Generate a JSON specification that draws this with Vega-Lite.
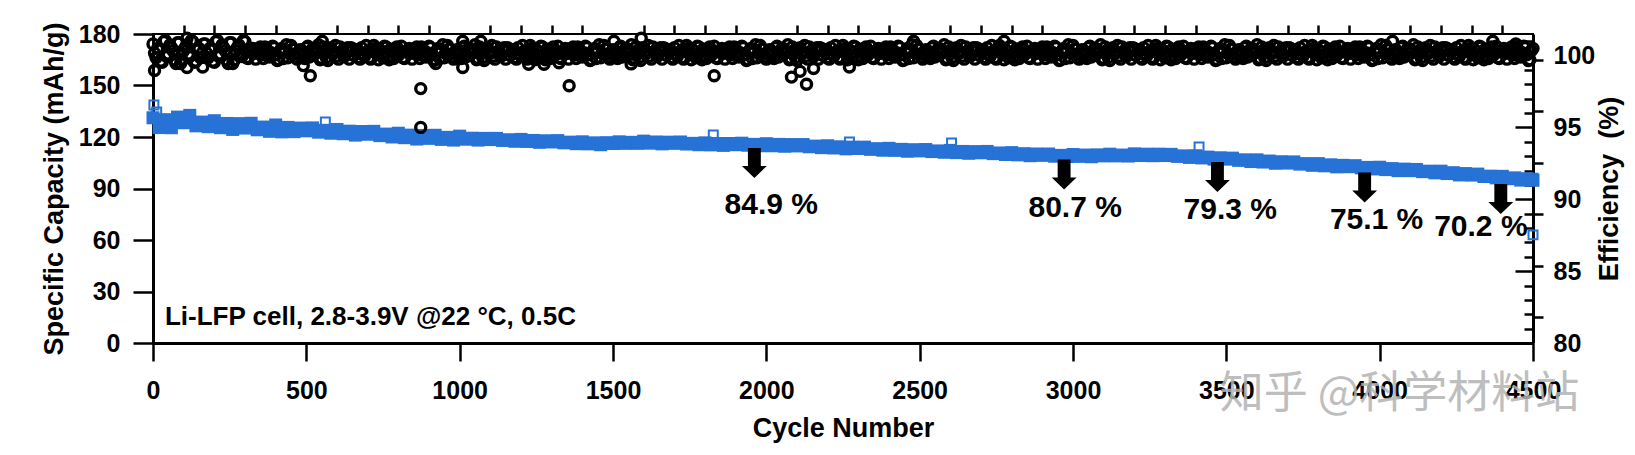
{
  "$schema": "https://vega.github.io/schema/vega-lite/v6.json",
  "autosize": {"type": "none"},
  "padding": {"left": 153, "top": 34, "right": 102, "bottom": 112},
  "width": 1380,
  "height": 309,
  "background": "white",
  "config": {
    "font": "Liberation Sans",
    "view": {"stroke": "black", "strokeWidth": 2},
    "axis": {
      "grid": false,
      "labelFont": "Liberation Sans",
      "titleFont": "Liberation Sans",
      "labelFontWeight": "bold",
      "titleFontWeight": "bold",
      "labelColor": "black",
      "titleColor": "black",
      "domainColor": "black",
      "tickColor": "black",
      "domainWidth": 3,
      "tickWidth": 2.5,
      "labelFontSize": 25,
      "titleFontSize": 27,
      "labelFlush": false,
      "labelBound": false
    }
  },
  "datasets": {
    "cap": [
      {"cycle":0,"cap":131.2},{"cycle":20,"cap":125.5},{"cycle":40,"cap":130.1},{"cycle":60,"cap":125.4},{"cycle":80,"cap":131.6},{"cycle":100,"cap":128.3},{"cycle":120,"cap":132.6},{"cycle":140,"cap":126.5},{"cycle":160,"cap":128.7},{"cycle":180,"cap":126.0},
      {"cycle":200,"cap":129.5},{"cycle":220,"cap":125.4},{"cycle":240,"cap":127.9},{"cycle":260,"cap":124.4},{"cycle":280,"cap":127.8},{"cycle":300,"cap":125.2},{"cycle":320,"cap":128.0},{"cycle":340,"cap":124.2},{"cycle":360,"cap":125.8},{"cycle":380,"cap":123.3},
      {"cycle":400,"cap":127.0},{"cycle":420,"cap":123.0},{"cycle":440,"cap":125.6},{"cycle":460,"cap":123.1},{"cycle":480,"cap":125.2},{"cycle":500,"cap":123.6},{"cycle":520,"cap":125.3},{"cycle":540,"cap":122.8},{"cycle":560,"cap":123.9},{"cycle":580,"cap":122.2},
      {"cycle":600,"cap":124.4},{"cycle":620,"cap":121.9},{"cycle":640,"cap":123.4},{"cycle":660,"cap":121.1},{"cycle":680,"cap":123.2},{"cycle":700,"cap":121.6},{"cycle":720,"cap":123.3},{"cycle":740,"cap":120.8},{"cycle":760,"cap":121.7},{"cycle":780,"cap":120.0},
      {"cycle":800,"cap":122.2},{"cycle":820,"cap":119.6},{"cycle":840,"cap":121.1},{"cycle":860,"cap":118.8},{"cycle":880,"cap":120.9},{"cycle":900,"cap":119.2},{"cycle":920,"cap":121.0},{"cycle":940,"cap":118.6},{"cycle":960,"cap":119.8},{"cycle":980,"cap":118.2},
      {"cycle":1000,"cap":120.5},{"cycle":1020,"cap":118.7},{"cycle":1040,"cap":119.3},{"cycle":1060,"cap":118.2},{"cycle":1080,"cap":119.2},{"cycle":1100,"cap":118.5},{"cycle":1120,"cap":119.2},{"cycle":1140,"cap":118.0},{"cycle":1160,"cap":118.4},{"cycle":1180,"cap":117.5},
      {"cycle":1200,"cap":118.6},{"cycle":1220,"cap":117.4},{"cycle":1240,"cap":118.0},{"cycle":1260,"cap":116.9},{"cycle":1280,"cap":117.8},{"cycle":1300,"cap":117.1},{"cycle":1320,"cap":117.9},{"cycle":1340,"cap":116.6},{"cycle":1360,"cap":117.0},{"cycle":1380,"cap":116.1},
      {"cycle":1400,"cap":117.2},{"cycle":1420,"cap":116.0},{"cycle":1440,"cap":116.6},{"cycle":1460,"cap":115.5},{"cycle":1480,"cap":116.7},{"cycle":1500,"cap":116.2},{"cycle":1520,"cap":117.2},{"cycle":1540,"cap":116.3},{"cycle":1560,"cap":116.9},{"cycle":1580,"cap":116.3},
      {"cycle":1600,"cap":117.6},{"cycle":1620,"cap":116.4},{"cycle":1640,"cap":117.1},{"cycle":1660,"cap":116.0},{"cycle":1680,"cap":117.0},{"cycle":1700,"cap":116.3},{"cycle":1720,"cap":117.1},{"cycle":1740,"cap":115.9},{"cycle":1760,"cap":116.3},{"cycle":1780,"cap":115.5},
      {"cycle":1800,"cap":116.6},{"cycle":1820,"cap":115.4},{"cycle":1840,"cap":116.2},{"cycle":1860,"cap":115.1},{"cycle":1880,"cap":116.2},{"cycle":1900,"cap":115.5},{"cycle":1920,"cap":116.4},{"cycle":1940,"cap":115.2},{"cycle":1960,"cap":115.7},{"cycle":1980,"cap":114.9},
      {"cycle":2000,"cap":116.1},{"cycle":2020,"cap":114.9},{"cycle":2040,"cap":115.7},{"cycle":2060,"cap":114.6},{"cycle":2080,"cap":115.6},{"cycle":2100,"cap":114.8},{"cycle":2120,"cap":115.6},{"cycle":2140,"cap":114.3},{"cycle":2160,"cap":114.7},{"cycle":2180,"cap":113.8},
      {"cycle":2200,"cap":114.9},{"cycle":2220,"cap":113.6},{"cycle":2240,"cap":114.3},{"cycle":2260,"cap":113.1},{"cycle":2280,"cap":114.1},{"cycle":2300,"cap":113.3},{"cycle":2320,"cap":114.1},{"cycle":2340,"cap":112.8},{"cycle":2360,"cap":113.2},{"cycle":2380,"cap":112.3},
      {"cycle":2400,"cap":113.4},{"cycle":2420,"cap":112.2},{"cycle":2440,"cap":112.8},{"cycle":2460,"cap":111.7},{"cycle":2480,"cap":112.6},{"cycle":2500,"cap":111.9},{"cycle":2520,"cap":112.7},{"cycle":2540,"cap":111.5},{"cycle":2560,"cap":111.9},{"cycle":2580,"cap":111.1},
      {"cycle":2600,"cap":112.2},{"cycle":2620,"cap":110.9},{"cycle":2640,"cap":111.6},{"cycle":2660,"cap":110.5},{"cycle":2680,"cap":111.5},{"cycle":2700,"cap":110.8},{"cycle":2720,"cap":111.6},{"cycle":2740,"cap":110.3},{"cycle":2760,"cap":110.7},{"cycle":2780,"cap":109.8},
      {"cycle":2800,"cap":110.9},{"cycle":2820,"cap":109.6},{"cycle":2840,"cap":110.3},{"cycle":2860,"cap":109.1},{"cycle":2880,"cap":110.1},{"cycle":2900,"cap":109.3},{"cycle":2920,"cap":110.1},{"cycle":2940,"cap":108.8},{"cycle":2960,"cap":109.3},{"cycle":2980,"cap":108.6},
      {"cycle":3000,"cap":109.8},{"cycle":3020,"cap":108.7},{"cycle":3040,"cap":109.5},{"cycle":3060,"cap":108.5},{"cycle":3080,"cap":109.6},{"cycle":3100,"cap":109.0},{"cycle":3120,"cap":110.0},{"cycle":3140,"cap":109.0},{"cycle":3160,"cap":109.5},{"cycle":3180,"cap":108.9},
      {"cycle":3200,"cap":110.2},{"cycle":3220,"cap":109.2},{"cycle":3240,"cap":110.0},{"cycle":3260,"cap":109.1},{"cycle":3280,"cap":110.0},{"cycle":3300,"cap":109.2},{"cycle":3320,"cap":109.9},{"cycle":3340,"cap":108.7},{"cycle":3360,"cap":109.0},{"cycle":3380,"cap":108.1},
      {"cycle":3400,"cap":109.1},{"cycle":3420,"cap":107.8},{"cycle":3440,"cap":108.3},{"cycle":3460,"cap":107.1},{"cycle":3480,"cap":107.9},{"cycle":3500,"cap":107.1},{"cycle":3520,"cap":107.7},{"cycle":3540,"cap":106.4},{"cycle":3560,"cap":106.7},{"cycle":3580,"cap":105.7},
      {"cycle":3600,"cap":106.7},{"cycle":3620,"cap":105.4},{"cycle":3640,"cap":106.0},{"cycle":3660,"cap":104.7},{"cycle":3680,"cap":105.6},{"cycle":3700,"cap":104.8},{"cycle":3720,"cap":105.5},{"cycle":3740,"cap":104.2},{"cycle":3760,"cap":104.5},{"cycle":3780,"cap":103.5},
      {"cycle":3800,"cap":104.5},{"cycle":3820,"cap":103.2},{"cycle":3840,"cap":103.8},{"cycle":3860,"cap":102.6},{"cycle":3880,"cap":103.5},{"cycle":3900,"cap":102.7},{"cycle":3920,"cap":103.3},{"cycle":3940,"cap":102.0},{"cycle":3960,"cap":102.3},{"cycle":3980,"cap":101.4},
      {"cycle":4000,"cap":102.4},{"cycle":4020,"cap":101.0},{"cycle":4040,"cap":101.6},{"cycle":4060,"cap":100.4},{"cycle":4080,"cap":101.3},{"cycle":4100,"cap":100.4},{"cycle":4120,"cap":101.1},{"cycle":4140,"cap":99.8},{"cycle":4160,"cap":100.1},{"cycle":4180,"cap":99.1},
      {"cycle":4200,"cap":100.1},{"cycle":4220,"cap":98.7},{"cycle":4240,"cap":99.2},{"cycle":4260,"cap":97.9},{"cycle":4280,"cap":98.7},{"cycle":4300,"cap":97.8},{"cycle":4320,"cap":98.4},{"cycle":4340,"cap":97.0},{"cycle":4360,"cap":97.2},{"cycle":4380,"cap":96.2},
      {"cycle":4400,"cap":97.1},{"cycle":4420,"cap":95.7},{"cycle":4440,"cap":96.2},{"cycle":4460,"cap":94.9},{"cycle":4480,"cap":95.7},{"cycle":4500,"cap":94.8}
    ],
    "capOut": [
      {"cycle":3,"cap":138.6},{"cycle":12,"cap":134.6},{"cycle":562,"cap":128.7},{"cycle":1827,"cap":121.2},{"cycle":2271,"cap":117.1},{"cycle":2604,"cap":116.5},{"cycle":3411,"cap":114.2},{"cycle":4500,"cap":96.0},{"cycle":4500,"cap":63.0}
    ],
    "eff": [
      {"cycle":0,"eff":100.81},{"cycle":10,"eff":99.85},{"cycle":20,"eff":100.41},{"cycle":30,"eff":99.53},{"cycle":40,"eff":101.05},{"cycle":50,"eff":100.09},{"cycle":60,"eff":100.57},{"cycle":70,"eff":99.69},{"cycle":80,"eff":100.89},{"cycle":90,"eff":99.45},
      {"cycle":100,"eff":100.33},{"cycle":110,"eff":100.73},{"cycle":120,"eff":99.93},{"cycle":130,"eff":100.97},{"cycle":140,"eff":99.61},{"cycle":150,"eff":100.49},{"cycle":160,"eff":100.17},{"cycle":170,"eff":100.81},{"cycle":180,"eff":99.85},{"cycle":190,"eff":100.41},
      {"cycle":200,"eff":99.53},{"cycle":210,"eff":101.05},{"cycle":220,"eff":100.09},{"cycle":230,"eff":100.57},{"cycle":240,"eff":99.69},{"cycle":250,"eff":100.89},{"cycle":260,"eff":99.45},{"cycle":270,"eff":100.33},{"cycle":280,"eff":100.73},{"cycle":290,"eff":99.93},
      {"cycle":300,"eff":100.97},{"cycle":310,"eff":99.8},{"cycle":320,"eff":100.35},{"cycle":330,"eff":100.15},
      {"cycle":340,"eff":100.2},{"cycle":350,"eff":100.6},{"cycle":360,"eff":99.8},{"cycle":370,"eff":100.45},{"cycle":380,"eff":99.9},{"cycle":390,"eff":100.65},{"cycle":400,"eff":100.05},{"cycle":410,"eff":99.7},{"cycle":420,"eff":100.5},{"cycle":430,"eff":100.3},{"cycle":440,"eff":99.85},{"cycle":450,"eff":100.7},{"cycle":460,"eff":100.1},{"cycle":470,"eff":99.75},{"cycle":480,"eff":100.4},{"cycle":490,"eff":100.0},{"cycle":500,"eff":100.55},
      {"cycle":510,"eff":99.9},{"cycle":520,"eff":100.45},{"cycle":530,"eff":100.15},{"cycle":540,"eff":100.75},{"cycle":550,"eff":99.8},{"cycle":560,"eff":100.35},{"cycle":570,"eff":99.65},{"cycle":580,"eff":100.55},{"cycle":590,"eff":100.2},{"cycle":600,"eff":99.95},{"cycle":610,"eff":100.6},{"cycle":620,"eff":100.05},{"cycle":630,"eff":100.4},{"cycle":640,"eff":99.75},{"cycle":650,"eff":100.5},{"cycle":660,"eff":100.25},{"cycle":670,"eff":99.85},
      {"cycle":680,"eff":100.55},{"cycle":690,"eff":99.95},{"cycle":700,"eff":100.3},{"cycle":710,"eff":99.75},{"cycle":720,"eff":100.7},{"cycle":730,"eff":100.1},{"cycle":740,"eff":100.4},{"cycle":750,"eff":99.85},{"cycle":760,"eff":100.6},{"cycle":770,"eff":99.7},{"cycle":780,"eff":100.25},{"cycle":790,"eff":100.5},{"cycle":800,"eff":100.0},{"cycle":810,"eff":100.65},{"cycle":820,"eff":99.8},{"cycle":830,"eff":100.35},{"cycle":840,"eff":100.15},
      {"cycle":850,"eff":100.2},{"cycle":860,"eff":100.6},{"cycle":870,"eff":99.8},{"cycle":880,"eff":100.45},{"cycle":890,"eff":99.9},{"cycle":900,"eff":100.65},{"cycle":910,"eff":100.05},{"cycle":920,"eff":99.7},{"cycle":930,"eff":100.5},{"cycle":940,"eff":100.3},{"cycle":950,"eff":99.85},{"cycle":960,"eff":100.7},{"cycle":970,"eff":100.1},{"cycle":980,"eff":99.75},{"cycle":990,"eff":100.4},{"cycle":1000,"eff":100.0},{"cycle":1010,"eff":100.55},
      {"cycle":1020,"eff":99.9},{"cycle":1030,"eff":100.45},{"cycle":1040,"eff":100.15},{"cycle":1050,"eff":100.75},{"cycle":1060,"eff":99.8},{"cycle":1070,"eff":100.35},{"cycle":1080,"eff":99.65},{"cycle":1090,"eff":100.55},{"cycle":1100,"eff":100.2},{"cycle":1110,"eff":99.95},{"cycle":1120,"eff":100.6},{"cycle":1130,"eff":100.05},{"cycle":1140,"eff":100.4},{"cycle":1150,"eff":99.75},{"cycle":1160,"eff":100.5},{"cycle":1170,"eff":100.25},{"cycle":1180,"eff":99.85},
      {"cycle":1190,"eff":100.55},{"cycle":1200,"eff":99.95},{"cycle":1210,"eff":100.3},{"cycle":1220,"eff":99.75},{"cycle":1230,"eff":100.7},{"cycle":1240,"eff":100.1},{"cycle":1250,"eff":100.4},{"cycle":1260,"eff":99.85},{"cycle":1270,"eff":100.6},{"cycle":1280,"eff":99.7},{"cycle":1290,"eff":100.25},{"cycle":1300,"eff":100.5},{"cycle":1310,"eff":100.0},{"cycle":1320,"eff":100.65},{"cycle":1330,"eff":99.8},{"cycle":1340,"eff":100.35},{"cycle":1350,"eff":100.15},
      {"cycle":1360,"eff":100.2},{"cycle":1370,"eff":100.6},{"cycle":1380,"eff":99.8},{"cycle":1390,"eff":100.45},{"cycle":1400,"eff":99.9},{"cycle":1410,"eff":100.65},{"cycle":1420,"eff":100.05},{"cycle":1430,"eff":99.7},{"cycle":1440,"eff":100.5},{"cycle":1450,"eff":100.3},{"cycle":1460,"eff":99.85},{"cycle":1470,"eff":100.7},{"cycle":1480,"eff":100.1},{"cycle":1490,"eff":99.75},{"cycle":1500,"eff":100.4},{"cycle":1510,"eff":100.0},{"cycle":1520,"eff":100.55},
      {"cycle":1530,"eff":99.9},{"cycle":1540,"eff":100.45},{"cycle":1550,"eff":100.15},{"cycle":1560,"eff":100.75},{"cycle":1570,"eff":99.8},{"cycle":1580,"eff":100.35},{"cycle":1590,"eff":99.65},{"cycle":1600,"eff":100.55},{"cycle":1610,"eff":100.2},{"cycle":1620,"eff":99.95},{"cycle":1630,"eff":100.6},{"cycle":1640,"eff":100.05},{"cycle":1650,"eff":100.4},{"cycle":1660,"eff":99.75},{"cycle":1670,"eff":100.5},{"cycle":1680,"eff":100.25},{"cycle":1690,"eff":99.85},
      {"cycle":1700,"eff":100.55},{"cycle":1710,"eff":99.95},{"cycle":1720,"eff":100.3},{"cycle":1730,"eff":99.75},{"cycle":1740,"eff":100.7},{"cycle":1750,"eff":100.1},{"cycle":1760,"eff":100.4},{"cycle":1770,"eff":99.85},{"cycle":1780,"eff":100.6},{"cycle":1790,"eff":99.7},{"cycle":1800,"eff":100.25},{"cycle":1810,"eff":100.5},{"cycle":1820,"eff":100.0},{"cycle":1830,"eff":100.65},{"cycle":1840,"eff":99.8},{"cycle":1850,"eff":100.35},{"cycle":1860,"eff":100.15},
      {"cycle":1870,"eff":100.2},{"cycle":1880,"eff":100.6},{"cycle":1890,"eff":99.8},{"cycle":1900,"eff":100.45},{"cycle":1910,"eff":99.9},{"cycle":1920,"eff":100.65},{"cycle":1930,"eff":100.05},{"cycle":1940,"eff":99.7},{"cycle":1950,"eff":100.5},{"cycle":1960,"eff":100.3},{"cycle":1970,"eff":99.85},{"cycle":1980,"eff":100.7},{"cycle":1990,"eff":100.1},{"cycle":2000,"eff":99.75},{"cycle":2010,"eff":100.4},{"cycle":2020,"eff":100.0},{"cycle":2030,"eff":100.55},
      {"cycle":2040,"eff":99.9},{"cycle":2050,"eff":100.45},{"cycle":2060,"eff":100.15},{"cycle":2070,"eff":100.75},{"cycle":2080,"eff":99.8},{"cycle":2090,"eff":100.35},{"cycle":2100,"eff":99.65},{"cycle":2110,"eff":100.55},{"cycle":2120,"eff":100.2},{"cycle":2130,"eff":99.95},{"cycle":2140,"eff":100.6},{"cycle":2150,"eff":100.05},{"cycle":2160,"eff":100.4},{"cycle":2170,"eff":99.75},{"cycle":2180,"eff":100.5},{"cycle":2190,"eff":100.25},{"cycle":2200,"eff":99.85},
      {"cycle":2210,"eff":100.55},{"cycle":2220,"eff":99.95},{"cycle":2230,"eff":100.3},{"cycle":2240,"eff":99.75},{"cycle":2250,"eff":100.7},{"cycle":2260,"eff":100.1},{"cycle":2270,"eff":100.4},{"cycle":2280,"eff":99.85},{"cycle":2290,"eff":100.6},{"cycle":2300,"eff":99.7},{"cycle":2310,"eff":100.25},{"cycle":2320,"eff":100.5},{"cycle":2330,"eff":100.0},{"cycle":2340,"eff":100.65},{"cycle":2350,"eff":99.8},{"cycle":2360,"eff":100.35},{"cycle":2370,"eff":100.15},
      {"cycle":2380,"eff":100.2},{"cycle":2390,"eff":100.6},{"cycle":2400,"eff":99.8},{"cycle":2410,"eff":100.45},{"cycle":2420,"eff":99.9},{"cycle":2430,"eff":100.65},{"cycle":2440,"eff":100.05},{"cycle":2450,"eff":99.7},{"cycle":2460,"eff":100.5},{"cycle":2470,"eff":100.3},{"cycle":2480,"eff":99.85},{"cycle":2490,"eff":100.7},{"cycle":2500,"eff":100.1},{"cycle":2510,"eff":99.75},{"cycle":2520,"eff":100.4},{"cycle":2530,"eff":100.0},{"cycle":2540,"eff":100.55},
      {"cycle":2550,"eff":99.9},{"cycle":2560,"eff":100.45},{"cycle":2570,"eff":100.15},{"cycle":2580,"eff":100.75},{"cycle":2590,"eff":99.8},{"cycle":2600,"eff":100.35},{"cycle":2610,"eff":99.65},{"cycle":2620,"eff":100.55},{"cycle":2630,"eff":100.2},{"cycle":2640,"eff":99.95},{"cycle":2650,"eff":100.6},{"cycle":2660,"eff":100.05},{"cycle":2670,"eff":100.4},{"cycle":2680,"eff":99.75},{"cycle":2690,"eff":100.5},{"cycle":2700,"eff":100.25},{"cycle":2710,"eff":99.85},
      {"cycle":2720,"eff":100.55},{"cycle":2730,"eff":99.95},{"cycle":2740,"eff":100.3},{"cycle":2750,"eff":99.75},{"cycle":2760,"eff":100.7},{"cycle":2770,"eff":100.1},{"cycle":2780,"eff":100.4},{"cycle":2790,"eff":99.85},{"cycle":2800,"eff":100.6},{"cycle":2810,"eff":99.7},{"cycle":2820,"eff":100.25},{"cycle":2830,"eff":100.5},{"cycle":2840,"eff":100.0},{"cycle":2850,"eff":100.65},{"cycle":2860,"eff":99.8},{"cycle":2870,"eff":100.35},{"cycle":2880,"eff":100.15},
      {"cycle":2890,"eff":100.2},{"cycle":2900,"eff":100.6},{"cycle":2910,"eff":99.8},{"cycle":2920,"eff":100.45},{"cycle":2930,"eff":99.9},{"cycle":2940,"eff":100.65},{"cycle":2950,"eff":100.05},{"cycle":2960,"eff":99.7},{"cycle":2970,"eff":100.5},{"cycle":2980,"eff":100.3},{"cycle":2990,"eff":99.85},{"cycle":3000,"eff":100.7},{"cycle":3010,"eff":100.1},{"cycle":3020,"eff":99.75},{"cycle":3030,"eff":100.4},{"cycle":3040,"eff":100.0},{"cycle":3050,"eff":100.55},
      {"cycle":3060,"eff":99.9},{"cycle":3070,"eff":100.45},{"cycle":3080,"eff":100.15},{"cycle":3090,"eff":100.75},{"cycle":3100,"eff":99.8},{"cycle":3110,"eff":100.35},{"cycle":3120,"eff":99.65},{"cycle":3130,"eff":100.55},{"cycle":3140,"eff":100.2},{"cycle":3150,"eff":99.95},{"cycle":3160,"eff":100.6},{"cycle":3170,"eff":100.05},{"cycle":3180,"eff":100.4},{"cycle":3190,"eff":99.75},{"cycle":3200,"eff":100.5},{"cycle":3210,"eff":100.25},{"cycle":3220,"eff":99.85},
      {"cycle":3230,"eff":100.55},{"cycle":3240,"eff":99.95},{"cycle":3250,"eff":100.3},{"cycle":3260,"eff":99.75},{"cycle":3270,"eff":100.7},{"cycle":3280,"eff":100.1},{"cycle":3290,"eff":100.4},{"cycle":3300,"eff":99.85},{"cycle":3310,"eff":100.6},{"cycle":3320,"eff":99.7},{"cycle":3330,"eff":100.25},{"cycle":3340,"eff":100.5},{"cycle":3350,"eff":100.0},{"cycle":3360,"eff":100.65},{"cycle":3370,"eff":99.8},{"cycle":3380,"eff":100.35},{"cycle":3390,"eff":100.15},
      {"cycle":3400,"eff":100.2},{"cycle":3410,"eff":100.6},{"cycle":3420,"eff":99.8},{"cycle":3430,"eff":100.45},{"cycle":3440,"eff":99.9},{"cycle":3450,"eff":100.65},{"cycle":3460,"eff":100.05},{"cycle":3470,"eff":99.7},{"cycle":3480,"eff":100.5},{"cycle":3490,"eff":100.3},{"cycle":3500,"eff":99.85},{"cycle":3510,"eff":100.7},{"cycle":3520,"eff":100.1},{"cycle":3530,"eff":99.75},{"cycle":3540,"eff":100.4},{"cycle":3550,"eff":100.0},{"cycle":3560,"eff":100.55},
      {"cycle":3570,"eff":99.9},{"cycle":3580,"eff":100.45},{"cycle":3590,"eff":100.15},{"cycle":3600,"eff":100.75},{"cycle":3610,"eff":99.8},{"cycle":3620,"eff":100.35},{"cycle":3630,"eff":99.65},{"cycle":3640,"eff":100.55},{"cycle":3650,"eff":100.2},{"cycle":3660,"eff":99.95},{"cycle":3670,"eff":100.6},{"cycle":3680,"eff":100.05},{"cycle":3690,"eff":100.4},{"cycle":3700,"eff":99.75},{"cycle":3710,"eff":100.5},{"cycle":3720,"eff":100.25},{"cycle":3730,"eff":99.85},
      {"cycle":3740,"eff":100.55},{"cycle":3750,"eff":99.95},{"cycle":3760,"eff":100.3},{"cycle":3770,"eff":99.75},{"cycle":3780,"eff":100.7},{"cycle":3790,"eff":100.1},{"cycle":3800,"eff":100.4},{"cycle":3810,"eff":99.85},{"cycle":3820,"eff":100.6},{"cycle":3830,"eff":99.7},{"cycle":3840,"eff":100.25},{"cycle":3850,"eff":100.5},{"cycle":3860,"eff":100.0},{"cycle":3870,"eff":100.65},{"cycle":3880,"eff":99.8},{"cycle":3890,"eff":100.35},{"cycle":3900,"eff":100.15},
      {"cycle":3910,"eff":100.2},{"cycle":3920,"eff":100.6},{"cycle":3930,"eff":99.8},{"cycle":3940,"eff":100.45},{"cycle":3950,"eff":99.9},{"cycle":3960,"eff":100.65},{"cycle":3970,"eff":100.05},{"cycle":3980,"eff":99.7},{"cycle":3990,"eff":100.5},{"cycle":4000,"eff":100.3},{"cycle":4010,"eff":99.85},{"cycle":4020,"eff":100.7},{"cycle":4030,"eff":100.1},{"cycle":4040,"eff":99.75},{"cycle":4050,"eff":100.4},{"cycle":4060,"eff":100.0},{"cycle":4070,"eff":100.55},
      {"cycle":4080,"eff":99.9},{"cycle":4090,"eff":100.45},{"cycle":4100,"eff":100.15},{"cycle":4110,"eff":100.75},{"cycle":4120,"eff":99.8},{"cycle":4130,"eff":100.35},{"cycle":4140,"eff":99.65},{"cycle":4150,"eff":100.55},{"cycle":4160,"eff":100.2},{"cycle":4170,"eff":99.95},{"cycle":4180,"eff":100.6},{"cycle":4190,"eff":100.05},{"cycle":4200,"eff":100.4},{"cycle":4210,"eff":99.75},{"cycle":4220,"eff":100.5},{"cycle":4230,"eff":100.25},{"cycle":4240,"eff":99.85},
      {"cycle":4250,"eff":100.55},{"cycle":4260,"eff":99.95},{"cycle":4270,"eff":100.3},{"cycle":4280,"eff":99.75},{"cycle":4290,"eff":100.7},{"cycle":4300,"eff":100.1},{"cycle":4310,"eff":100.4},{"cycle":4320,"eff":99.85},{"cycle":4330,"eff":100.6},{"cycle":4340,"eff":99.7},{"cycle":4350,"eff":100.25},{"cycle":4360,"eff":100.5},{"cycle":4370,"eff":100.0},{"cycle":4380,"eff":100.65},{"cycle":4390,"eff":99.8},{"cycle":4400,"eff":100.35},{"cycle":4410,"eff":100.15},
      {"cycle":4420,"eff":100.2},{"cycle":4430,"eff":100.6},{"cycle":4440,"eff":99.8},{"cycle":4450,"eff":100.45},{"cycle":4460,"eff":99.9},{"cycle":4470,"eff":100.65},{"cycle":4480,"eff":100.05},{"cycle":4490,"eff":99.7},{"cycle":4500,"eff":100.5},
      {"cycle":5,"eff":100.17},{"cycle":15,"eff":100.49},{"cycle":25,"eff":99.61},{"cycle":35,"eff":100.97},{"cycle":45,"eff":99.93},{"cycle":55,"eff":100.73},{"cycle":65,"eff":100.33},{"cycle":75,"eff":99.45},{"cycle":85,"eff":100.89},{"cycle":95,"eff":99.69},
      {"cycle":105,"eff":100.57},{"cycle":115,"eff":100.09},{"cycle":125,"eff":101.05},{"cycle":135,"eff":99.53},{"cycle":145,"eff":100.41},{"cycle":155,"eff":99.85},{"cycle":165,"eff":100.81},{"cycle":175,"eff":100.17},{"cycle":185,"eff":100.49},{"cycle":195,"eff":99.61},
      {"cycle":205,"eff":100.97},{"cycle":215,"eff":99.93},{"cycle":225,"eff":100.73},{"cycle":235,"eff":100.33},{"cycle":245,"eff":99.45},{"cycle":255,"eff":100.89},{"cycle":265,"eff":99.69},{"cycle":275,"eff":100.57},{"cycle":285,"eff":100.09},{"cycle":295,"eff":101.05},
      {"cycle":305,"eff":99.85},{"cycle":315,"eff":100.25},{"cycle":325,"eff":100.5},{"cycle":335,"eff":99.75},{"cycle":345,"eff":100.4},{"cycle":355,"eff":100.05},{"cycle":365,"eff":100.6},{"cycle":375,"eff":99.95},{"cycle":385,"eff":100.2},{"cycle":395,"eff":100.55},{"cycle":405,"eff":99.65},{"cycle":415,"eff":100.35},{"cycle":425,"eff":99.8},{"cycle":435,"eff":100.75},{"cycle":445,"eff":100.15},{"cycle":455,"eff":100.45},{"cycle":465,"eff":99.9},
      {"cycle":475,"eff":100.15},{"cycle":485,"eff":100.35},{"cycle":495,"eff":99.8},{"cycle":505,"eff":100.65},{"cycle":515,"eff":100.0},{"cycle":525,"eff":100.5},{"cycle":535,"eff":100.25},{"cycle":545,"eff":99.7},{"cycle":555,"eff":100.6},{"cycle":565,"eff":99.85},{"cycle":575,"eff":100.4},{"cycle":585,"eff":100.1},{"cycle":595,"eff":100.7},{"cycle":605,"eff":99.75},{"cycle":615,"eff":100.3},{"cycle":625,"eff":99.95},{"cycle":635,"eff":100.55},
      {"cycle":645,"eff":100.55},{"cycle":655,"eff":100.0},{"cycle":665,"eff":100.4},{"cycle":675,"eff":99.75},{"cycle":685,"eff":100.1},{"cycle":695,"eff":100.7},{"cycle":705,"eff":99.85},{"cycle":715,"eff":100.3},{"cycle":725,"eff":100.5},{"cycle":735,"eff":99.7},{"cycle":745,"eff":100.05},{"cycle":755,"eff":100.65},{"cycle":765,"eff":99.9},{"cycle":775,"eff":100.45},{"cycle":785,"eff":99.8},{"cycle":795,"eff":100.6},{"cycle":805,"eff":100.2},
      {"cycle":815,"eff":99.85},{"cycle":825,"eff":100.25},{"cycle":835,"eff":100.5},{"cycle":845,"eff":99.75},{"cycle":855,"eff":100.4},{"cycle":865,"eff":100.05},{"cycle":875,"eff":100.6},{"cycle":885,"eff":99.95},{"cycle":895,"eff":100.2},{"cycle":905,"eff":100.55},{"cycle":915,"eff":99.65},{"cycle":925,"eff":100.35},{"cycle":935,"eff":99.8},{"cycle":945,"eff":100.75},{"cycle":955,"eff":100.15},{"cycle":965,"eff":100.45},{"cycle":975,"eff":99.9},
      {"cycle":985,"eff":100.15},{"cycle":995,"eff":100.35},{"cycle":1005,"eff":99.8},{"cycle":1015,"eff":100.65},{"cycle":1025,"eff":100.0},{"cycle":1035,"eff":100.5},{"cycle":1045,"eff":100.25},{"cycle":1055,"eff":99.7},{"cycle":1065,"eff":100.6},{"cycle":1075,"eff":99.85},{"cycle":1085,"eff":100.4},{"cycle":1095,"eff":100.1},{"cycle":1105,"eff":100.7},{"cycle":1115,"eff":99.75},{"cycle":1125,"eff":100.3},{"cycle":1135,"eff":99.95},{"cycle":1145,"eff":100.55},
      {"cycle":1155,"eff":100.55},{"cycle":1165,"eff":100.0},{"cycle":1175,"eff":100.4},{"cycle":1185,"eff":99.75},{"cycle":1195,"eff":100.1},{"cycle":1205,"eff":100.7},{"cycle":1215,"eff":99.85},{"cycle":1225,"eff":100.3},{"cycle":1235,"eff":100.5},{"cycle":1245,"eff":99.7},{"cycle":1255,"eff":100.05},{"cycle":1265,"eff":100.65},{"cycle":1275,"eff":99.9},{"cycle":1285,"eff":100.45},{"cycle":1295,"eff":99.8},{"cycle":1305,"eff":100.6},{"cycle":1315,"eff":100.2},
      {"cycle":1325,"eff":99.85},{"cycle":1335,"eff":100.25},{"cycle":1345,"eff":100.5},{"cycle":1355,"eff":99.75},{"cycle":1365,"eff":100.4},{"cycle":1375,"eff":100.05},{"cycle":1385,"eff":100.6},{"cycle":1395,"eff":99.95},{"cycle":1405,"eff":100.2},{"cycle":1415,"eff":100.55},{"cycle":1425,"eff":99.65},{"cycle":1435,"eff":100.35},{"cycle":1445,"eff":99.8},{"cycle":1455,"eff":100.75},{"cycle":1465,"eff":100.15},{"cycle":1475,"eff":100.45},{"cycle":1485,"eff":99.9},
      {"cycle":1495,"eff":100.15},{"cycle":1505,"eff":100.35},{"cycle":1515,"eff":99.8},{"cycle":1525,"eff":100.65},{"cycle":1535,"eff":100.0},{"cycle":1545,"eff":100.5},{"cycle":1555,"eff":100.25},{"cycle":1565,"eff":99.7},{"cycle":1575,"eff":100.6},{"cycle":1585,"eff":99.85},{"cycle":1595,"eff":100.4},{"cycle":1605,"eff":100.1},{"cycle":1615,"eff":100.7},{"cycle":1625,"eff":99.75},{"cycle":1635,"eff":100.3},{"cycle":1645,"eff":99.95},{"cycle":1655,"eff":100.55},
      {"cycle":1665,"eff":100.55},{"cycle":1675,"eff":100.0},{"cycle":1685,"eff":100.4},{"cycle":1695,"eff":99.75},{"cycle":1705,"eff":100.1},{"cycle":1715,"eff":100.7},{"cycle":1725,"eff":99.85},{"cycle":1735,"eff":100.3},{"cycle":1745,"eff":100.5},{"cycle":1755,"eff":99.7},{"cycle":1765,"eff":100.05},{"cycle":1775,"eff":100.65},{"cycle":1785,"eff":99.9},{"cycle":1795,"eff":100.45},{"cycle":1805,"eff":99.8},{"cycle":1815,"eff":100.6},{"cycle":1825,"eff":100.2},
      {"cycle":1835,"eff":99.85},{"cycle":1845,"eff":100.25},{"cycle":1855,"eff":100.5},{"cycle":1865,"eff":99.75},{"cycle":1875,"eff":100.4},{"cycle":1885,"eff":100.05},{"cycle":1895,"eff":100.6},{"cycle":1905,"eff":99.95},{"cycle":1915,"eff":100.2},{"cycle":1925,"eff":100.55},{"cycle":1935,"eff":99.65},{"cycle":1945,"eff":100.35},{"cycle":1955,"eff":99.8},{"cycle":1965,"eff":100.75},{"cycle":1975,"eff":100.15},{"cycle":1985,"eff":100.45},{"cycle":1995,"eff":99.9},
      {"cycle":2005,"eff":100.15},{"cycle":2015,"eff":100.35},{"cycle":2025,"eff":99.8},{"cycle":2035,"eff":100.65},{"cycle":2045,"eff":100.0},{"cycle":2055,"eff":100.5},{"cycle":2065,"eff":100.25},{"cycle":2075,"eff":99.7},{"cycle":2085,"eff":100.6},{"cycle":2095,"eff":99.85},{"cycle":2105,"eff":100.4},{"cycle":2115,"eff":100.1},{"cycle":2125,"eff":100.7},{"cycle":2135,"eff":99.75},{"cycle":2145,"eff":100.3},{"cycle":2155,"eff":99.95},{"cycle":2165,"eff":100.55},
      {"cycle":2175,"eff":100.55},{"cycle":2185,"eff":100.0},{"cycle":2195,"eff":100.4},{"cycle":2205,"eff":99.75},{"cycle":2215,"eff":100.1},{"cycle":2225,"eff":100.7},{"cycle":2235,"eff":99.85},{"cycle":2245,"eff":100.3},{"cycle":2255,"eff":100.5},{"cycle":2265,"eff":99.7},{"cycle":2275,"eff":100.05},{"cycle":2285,"eff":100.65},{"cycle":2295,"eff":99.9},{"cycle":2305,"eff":100.45},{"cycle":2315,"eff":99.8},{"cycle":2325,"eff":100.6},{"cycle":2335,"eff":100.2},
      {"cycle":2345,"eff":99.85},{"cycle":2355,"eff":100.25},{"cycle":2365,"eff":100.5},{"cycle":2375,"eff":99.75},{"cycle":2385,"eff":100.4},{"cycle":2395,"eff":100.05},{"cycle":2405,"eff":100.6},{"cycle":2415,"eff":99.95},{"cycle":2425,"eff":100.2},{"cycle":2435,"eff":100.55},{"cycle":2445,"eff":99.65},{"cycle":2455,"eff":100.35},{"cycle":2465,"eff":99.8},{"cycle":2475,"eff":100.75},{"cycle":2485,"eff":100.15},{"cycle":2495,"eff":100.45},{"cycle":2505,"eff":99.9},
      {"cycle":2515,"eff":100.15},{"cycle":2525,"eff":100.35},{"cycle":2535,"eff":99.8},{"cycle":2545,"eff":100.65},{"cycle":2555,"eff":100.0},{"cycle":2565,"eff":100.5},{"cycle":2575,"eff":100.25},{"cycle":2585,"eff":99.7},{"cycle":2595,"eff":100.6},{"cycle":2605,"eff":99.85},{"cycle":2615,"eff":100.4},{"cycle":2625,"eff":100.1},{"cycle":2635,"eff":100.7},{"cycle":2645,"eff":99.75},{"cycle":2655,"eff":100.3},{"cycle":2665,"eff":99.95},{"cycle":2675,"eff":100.55},
      {"cycle":2685,"eff":100.55},{"cycle":2695,"eff":100.0},{"cycle":2705,"eff":100.4},{"cycle":2715,"eff":99.75},{"cycle":2725,"eff":100.1},{"cycle":2735,"eff":100.7},{"cycle":2745,"eff":99.85},{"cycle":2755,"eff":100.3},{"cycle":2765,"eff":100.5},{"cycle":2775,"eff":99.7},{"cycle":2785,"eff":100.05},{"cycle":2795,"eff":100.65},{"cycle":2805,"eff":99.9},{"cycle":2815,"eff":100.45},{"cycle":2825,"eff":99.8},{"cycle":2835,"eff":100.6},{"cycle":2845,"eff":100.2},
      {"cycle":2855,"eff":99.85},{"cycle":2865,"eff":100.25},{"cycle":2875,"eff":100.5},{"cycle":2885,"eff":99.75},{"cycle":2895,"eff":100.4},{"cycle":2905,"eff":100.05},{"cycle":2915,"eff":100.6},{"cycle":2925,"eff":99.95},{"cycle":2935,"eff":100.2},{"cycle":2945,"eff":100.55},{"cycle":2955,"eff":99.65},{"cycle":2965,"eff":100.35},{"cycle":2975,"eff":99.8},{"cycle":2985,"eff":100.75},{"cycle":2995,"eff":100.15},{"cycle":3005,"eff":100.45},{"cycle":3015,"eff":99.9},
      {"cycle":3025,"eff":100.15},{"cycle":3035,"eff":100.35},{"cycle":3045,"eff":99.8},{"cycle":3055,"eff":100.65},{"cycle":3065,"eff":100.0},{"cycle":3075,"eff":100.5},{"cycle":3085,"eff":100.25},{"cycle":3095,"eff":99.7},{"cycle":3105,"eff":100.6},{"cycle":3115,"eff":99.85},{"cycle":3125,"eff":100.4},{"cycle":3135,"eff":100.1},{"cycle":3145,"eff":100.7},{"cycle":3155,"eff":99.75},{"cycle":3165,"eff":100.3},{"cycle":3175,"eff":99.95},{"cycle":3185,"eff":100.55},
      {"cycle":3195,"eff":100.55},{"cycle":3205,"eff":100.0},{"cycle":3215,"eff":100.4},{"cycle":3225,"eff":99.75},{"cycle":3235,"eff":100.1},{"cycle":3245,"eff":100.7},{"cycle":3255,"eff":99.85},{"cycle":3265,"eff":100.3},{"cycle":3275,"eff":100.5},{"cycle":3285,"eff":99.7},{"cycle":3295,"eff":100.05},{"cycle":3305,"eff":100.65},{"cycle":3315,"eff":99.9},{"cycle":3325,"eff":100.45},{"cycle":3335,"eff":99.8},{"cycle":3345,"eff":100.6},{"cycle":3355,"eff":100.2},
      {"cycle":3365,"eff":99.85},{"cycle":3375,"eff":100.25},{"cycle":3385,"eff":100.5},{"cycle":3395,"eff":99.75},{"cycle":3405,"eff":100.4},{"cycle":3415,"eff":100.05},{"cycle":3425,"eff":100.6},{"cycle":3435,"eff":99.95},{"cycle":3445,"eff":100.2},{"cycle":3455,"eff":100.55},{"cycle":3465,"eff":99.65},{"cycle":3475,"eff":100.35},{"cycle":3485,"eff":99.8},{"cycle":3495,"eff":100.75},{"cycle":3505,"eff":100.15},{"cycle":3515,"eff":100.45},{"cycle":3525,"eff":99.9},
      {"cycle":3535,"eff":100.15},{"cycle":3545,"eff":100.35},{"cycle":3555,"eff":99.8},{"cycle":3565,"eff":100.65},{"cycle":3575,"eff":100.0},{"cycle":3585,"eff":100.5},{"cycle":3595,"eff":100.25},{"cycle":3605,"eff":99.7},{"cycle":3615,"eff":100.6},{"cycle":3625,"eff":99.85},{"cycle":3635,"eff":100.4},{"cycle":3645,"eff":100.1},{"cycle":3655,"eff":100.7},{"cycle":3665,"eff":99.75},{"cycle":3675,"eff":100.3},{"cycle":3685,"eff":99.95},{"cycle":3695,"eff":100.55},
      {"cycle":3705,"eff":100.55},{"cycle":3715,"eff":100.0},{"cycle":3725,"eff":100.4},{"cycle":3735,"eff":99.75},{"cycle":3745,"eff":100.1},{"cycle":3755,"eff":100.7},{"cycle":3765,"eff":99.85},{"cycle":3775,"eff":100.3},{"cycle":3785,"eff":100.5},{"cycle":3795,"eff":99.7},{"cycle":3805,"eff":100.05},{"cycle":3815,"eff":100.65},{"cycle":3825,"eff":99.9},{"cycle":3835,"eff":100.45},{"cycle":3845,"eff":99.8},{"cycle":3855,"eff":100.6},{"cycle":3865,"eff":100.2},
      {"cycle":3875,"eff":99.85},{"cycle":3885,"eff":100.25},{"cycle":3895,"eff":100.5},{"cycle":3905,"eff":99.75},{"cycle":3915,"eff":100.4},{"cycle":3925,"eff":100.05},{"cycle":3935,"eff":100.6},{"cycle":3945,"eff":99.95},{"cycle":3955,"eff":100.2},{"cycle":3965,"eff":100.55},{"cycle":3975,"eff":99.65},{"cycle":3985,"eff":100.35},{"cycle":3995,"eff":99.8},{"cycle":4005,"eff":100.75},{"cycle":4015,"eff":100.15},{"cycle":4025,"eff":100.45},{"cycle":4035,"eff":99.9},
      {"cycle":4045,"eff":100.15},{"cycle":4055,"eff":100.35},{"cycle":4065,"eff":99.8},{"cycle":4075,"eff":100.65},{"cycle":4085,"eff":100.0},{"cycle":4095,"eff":100.5},{"cycle":4105,"eff":100.25},{"cycle":4115,"eff":99.7},{"cycle":4125,"eff":100.6},{"cycle":4135,"eff":99.85},{"cycle":4145,"eff":100.4},{"cycle":4155,"eff":100.1},{"cycle":4165,"eff":100.7},{"cycle":4175,"eff":99.75},{"cycle":4185,"eff":100.3},{"cycle":4195,"eff":99.95},{"cycle":4205,"eff":100.55},
      {"cycle":4215,"eff":100.55},{"cycle":4225,"eff":100.0},{"cycle":4235,"eff":100.4},{"cycle":4245,"eff":99.75},{"cycle":4255,"eff":100.1},{"cycle":4265,"eff":100.7},{"cycle":4275,"eff":99.85},{"cycle":4285,"eff":100.3},{"cycle":4295,"eff":100.5},{"cycle":4305,"eff":99.7},{"cycle":4315,"eff":100.05},{"cycle":4325,"eff":100.65},{"cycle":4335,"eff":99.9},{"cycle":4345,"eff":100.45},{"cycle":4355,"eff":99.8},{"cycle":4365,"eff":100.6},{"cycle":4375,"eff":100.2},
      {"cycle":4385,"eff":99.85},{"cycle":4395,"eff":100.25},{"cycle":4405,"eff":100.5},{"cycle":4415,"eff":99.75},{"cycle":4425,"eff":100.4},{"cycle":4435,"eff":100.05},{"cycle":4445,"eff":100.6},{"cycle":4455,"eff":99.95},{"cycle":4465,"eff":100.2},{"cycle":4475,"eff":100.55},{"cycle":4485,"eff":99.65},{"cycle":4495,"eff":100.35},
      {"cycle":5,"eff":98.96},{"cycle":111,"eff":99.17},{"cycle":162,"eff":99.2},{"cycle":111,"eff":101.2},{"cycle":490,"eff":99.3},{"cycle":513,"eff":98.6},{"cycle":552,"eff":101.0},{"cycle":873,"eff":97.7},{"cycle":873,"eff":95.0},{"cycle":922,"eff":99.44},
      {"cycle":1010,"eff":99.17},{"cycle":1010,"eff":101.0},{"cycle":1069,"eff":101.0},{"cycle":1225,"eff":99.4},{"cycle":1275,"eff":99.4},{"cycle":1324,"eff":99.5},{"cycle":1357,"eff":97.9},{"cycle":1503,"eff":101.0},{"cycle":1559,"eff":99.42},{"cycle":1592,"eff":101.2},
      {"cycle":1830,"eff":98.6},{"cycle":2082,"eff":98.5},{"cycle":2110,"eff":98.9},{"cycle":2131,"eff":98.0},{"cycle":2154,"eff":99.1},{"cycle":2271,"eff":99.2},{"cycle":2480,"eff":101.0},{"cycle":2775,"eff":101.0},{"cycle":4042,"eff":101.0},{"cycle":4369,"eff":101.0},{"cycle":4444,"eff":100.8}
    ],
    "arrows": [
      {"cycle":1961,"cap":104.9},{"cycle":2971,"cap":98.2},{"cycle":3471,"cap":96.7},{"cycle":3951,"cap":90.6},{"cycle":4395,"cap":83.9}
    ],
    "labels": [
      {"cycle":2016,"cap":80.4,"label":"84.9 %"},{"cycle":3007,"cap":78.6,"label":"80.7 %"},{"cycle":3513,"cap":77.5,"label":"79.3 %"},{"cycle":3990,"cap":71.7,"label":"75.1 %"},{"cycle":4330,"cap":67.6,"label":"70.2 %"}
    ],
    "note": [
      {"cycle":39,"cap":10.5,"label":"Li-LFP cell, 2.8-3.9V @22 °C, 0.5C"}
    ],
    "wm": [
      {"cycle":4065,"eff":76.4,"label":"知乎 @科学材料站"}
    ]
  },
  "layer": [
    {
      "data": {"name": "cap"},
      "mark": {"type": "point", "shape": "square", "filled": true, "size": 169, "color": "#2672d6", "opacity": 1, "strokeWidth": 0},
      "encoding": {
        "x": {
          "field": "cycle", "type": "quantitative",
          "scale": {"domain": [0, 4500], "nice": false, "zero": false},
          "axis": {
            "title": "Cycle Number",
            "values": [0,500,1000,1500,2000,2500,3000,3500,4000,4500],
            "format": "d",
            "labelOverlap": false,
            "tickSize": 18,
            "labelPadding": 17,
            "titlePadding": 12
          }
        },
        "y": {
          "field": "cap", "type": "quantitative",
          "scale": {"domain": [0, 180], "nice": false, "zero": false},
          "axis": {
            "title": "Specific Capacity (mAh/g)",
            "values": [0,30,60,90,120,150,180],
            "labelOverlap": false,
            "tickSize": 20,
            "labelPadding": 13,
            "titlePadding": 10
          }
        }
      }
    },
    {
      "data": {"name": "capOut"},
      "mark": {"type": "point", "shape": "square", "filled": false, "size": 80, "stroke": "#2672d6", "strokeWidth": 2, "opacity": 1},
      "encoding": {
        "x": {
          "field": "cycle", "type": "quantitative",
          "scale": {"domain": [0, 4500], "nice": false, "zero": false},
          "axis": {
            "title": null, "labels": false, "domain": false, "tickSize": 9,
            "values": [100,200,300,400,600,700,800,900,1100,1200,1300,1400,1600,1700,1800,1900,2100,2200,2300,2400,2600,2700,2800,2900,3100,3200,3300,3400,3600,3700,3800,3900,4100,4200,4300,4400]
          }
        },
        "y": {
          "field": "cap", "type": "quantitative",
          "scale": {"domain": [0, 180], "nice": false, "zero": false},
          "axis": {"title": null, "labels": false, "domain": false, "tickSize": 10, "values": [15,45,75,105,135,165]}
        }
      }
    },
    {
      "data": {"name": "arrows"},
      "mark": {"type": "point", "shape": "M -0.43 -1 L 0.43 -1 L 0.43 0.2 L 0.83 0.2 L 0 1 L -0.83 0.2 L -0.43 0.2 Z", "filled": true, "size": 900, "color": "black", "opacity": 1, "strokeWidth": 0},
      "encoding": {
        "x": {"field": "cycle", "type": "quantitative", "scale": {"domain": [0, 4500], "nice": false, "zero": false}, "axis": null},
        "y": {"field": "cap", "type": "quantitative", "scale": {"domain": [0, 180], "nice": false, "zero": false}, "axis": null}
      }
    },
    {
      "data": {"name": "labels"},
      "mark": {"type": "text", "font": "Liberation Sans", "fontWeight": "bold", "fontSize": 30, "color": "black", "align": "center", "baseline": "middle"},
      "encoding": {
        "x": {"field": "cycle", "type": "quantitative", "scale": {"domain": [0, 4500], "nice": false, "zero": false}, "axis": null},
        "y": {"field": "cap", "type": "quantitative", "scale": {"domain": [0, 180], "nice": false, "zero": false}, "axis": null},
        "text": {"field": "label", "type": "nominal"}
      }
    },
    {
      "data": {"name": "note"},
      "mark": {"type": "text", "font": "Liberation Sans", "fontWeight": "bold", "fontSize": 26, "color": "black", "align": "left", "baseline": "alphabetic"},
      "encoding": {
        "x": {"field": "cycle", "type": "quantitative", "scale": {"domain": [0, 4500], "nice": false, "zero": false}, "axis": null},
        "y": {"field": "cap", "type": "quantitative", "scale": {"domain": [0, 180], "nice": false, "zero": false}, "axis": null},
        "text": {"field": "label", "type": "nominal"}
      }
    },
    {
      "data": {"name": "eff"},
      "mark": {"type": "point", "shape": "circle", "filled": false, "size": 100, "color": "black", "strokeWidth": 3.4, "opacity": 1},
      "encoding": {
        "x": {"field": "cycle", "type": "quantitative", "scale": {"domain": [0, 4500], "nice": false, "zero": false}, "axis": null},
        "y": {
          "field": "eff", "type": "quantitative",
          "scale": {"domain": [80, 101.5], "nice": false, "zero": false},
          "axis": {
            "orient": "right",
            "title": "Efficiency\u00a0 (%)",
            "titleAngle": 270,
            "titleBaseline": "top",
            "titlePadding": 2,
            "values": [80,85,90,95,100],
            "labelOverlap": false,
            "tickSize": -18,
            "labelPadding": 38
          }
        }
      }
    },
    {
      "data": {"name": "wm"},
      "mark": {"type": "text", "font": "Noto Sans CJK SC", "fontSize": 44, "color": "#b3b3b3", "opacity": 0.85, "align": "center", "baseline": "middle"},
      "encoding": {
        "x": {"field": "cycle", "type": "quantitative", "scale": {"domain": [0, 4500], "nice": false, "zero": false}, "axis": null},
        "y": {
          "field": "eff", "type": "quantitative",
          "scale": {"domain": [80, 101.5], "nice": false, "zero": false},
          "axis": {"orient": "right", "title": null, "labels": false, "domain": false, "tickSize": -9, "values": [81,82,83,84,86,87,88,89,91,92,93,94,96,97,98,99,101]}
        },
        "text": {"field": "label", "type": "nominal"}
      }
    }
  ],
  "resolve": {"scale": {"y": "independent"}, "axis": {"x": "independent", "y": "independent"}}
}
